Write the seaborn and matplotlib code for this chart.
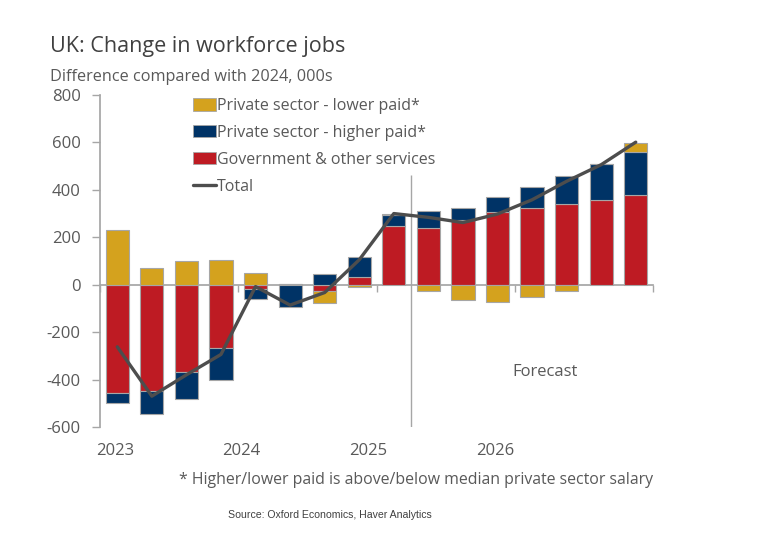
import numpy as np
import pandas as pd
import matplotlib
matplotlib.use("Agg")
import matplotlib.pyplot as plt
import matplotlib.transforms as mtransforms
from matplotlib.patches import Patch
from matplotlib.lines import Line2D
import seaborn as sns

# ---- data (000s, difference vs 2024) ----
quarters = ["2023Q1", "2023Q2", "2023Q3", "2023Q4",
            "2024Q1", "2024Q2", "2024Q3", "2024Q4",
            "2025Q1", "2025Q2", "2025Q3", "2025Q4",
            "2026Q1", "2026Q2", "2026Q3", "2026Q4"]
government = [-458, -447, -366, -265, -20, 5, -28, 31,
              249, 238, 272, 306, 324, 340, 358, 380]
private_higher = [-42, -97, -117, -135, -42, -94, 45, 86,
                  44, 72, 52, 63, 89, 117, 149, 181]
private_lower = [232, 70, 99, 104, 51, 0, -49, -8,
                 6, -27, -63, -73, -52, -27, 0, 38]
total = [-262, -470, -380, -294, -8, -86, -33, 105,
         300, 284, 262, 298, 358, 436, 506, 601]
year_labels = ["2023", "2024", "2025", "2026"]
y_ticks = [-600, -400, -200, 0, 200, 400, 600, 800]

labels = ["Private sector - lower paid*", "Private sector - higher paid*",
          "Government & other services", "Total"]
c_low = "#D4A21E"
c_high = "#003366"
c_gov = "#BE1B23"
c_tot = "#4D4D4D"
edge = "#A6A6A6"
txt = "#595959"

sns.set_theme(style="white")
plt.rcParams["font.family"] = ["Open Sans", "DejaVu Sans"]

fig = plt.figure(figsize=(7.68, 5.6), dpi=100)
ax = fig.add_axes([0.1302, 0.2375, 0.8503 - 0.1302, 0.8304 - 0.2375])

x = np.arange(len(quarters))
w = 0.67

df = pd.DataFrame({"q": quarters, "gov": government})
sns.barplot(data=df, x="q", y="gov", color=c_gov, saturation=1, width=w,
            edgecolor=edge, linewidth=0.8, ax=ax, zorder=2)

pos_b = np.where(np.array(government) > 0, government, 0).astype(float)
neg_b = np.where(np.array(government) < 0, government, 0).astype(float)
for vals, col in [(private_higher, c_high), (private_lower, c_low)]:
    v = np.array(vals, dtype=float)
    bottoms = np.where(v >= 0, pos_b, neg_b)
    ax.bar(x, v, width=w, bottom=bottoms, color=col, edgecolor=edge,
           linewidth=0.8, zorder=2)
    pos_b = pos_b + np.where(v > 0, v, 0)
    neg_b = neg_b + np.where(v < 0, v, 0)

sns.lineplot(x=x, y=total, color=c_tot, linewidth=2.4, ax=ax, legend=False,
             zorder=4)

ax.set_xlim(-0.5, len(quarters) - 0.5)
ax.set_ylim(-600, 800)
ax.set_yticks(y_ticks)
ax.set_yticklabels([str(t) for t in y_ticks])
ax.set_xlabel("")
ax.set_ylabel("")

# year boundaries as ticks on zero line
ax.set_xticks(np.arange(-0.5, len(quarters), 4))
ax.set_xticklabels([])
for s in ["top", "right"]:
    ax.spines[s].set_visible(False)
ax.spines["bottom"].set_position(("data", 0))
ax.spines["bottom"].set_color(edge)
ax.spines["bottom"].set_zorder(1)
ax.spines["left"].set_color(edge)
ax.tick_params(axis="x", direction="out", length=5, color=edge, width=1,
               bottom=True)
ax.tick_params(axis="y", direction="out", length=6, color=edge, width=1,
               left=True, labelsize=12, labelcolor=txt, pad=8)

trans = mtransforms.blended_transform_factory(ax.transData, ax.transAxes)
for i, yl in enumerate(year_labels):
    ax.text(-0.07 + i * 3.665, -0.072, yl, transform=trans, ha="center",
            va="center", fontsize=12, color=txt)

# forecast divider
ax.vlines(8.5, -600, 464, color=edge, linewidth=1, zorder=1)
ax.text(12.38, -368, "Forecast", ha="center", va="center", fontsize=12,
        color=txt)

handles = [Patch(facecolor=c_low, edgecolor=edge, linewidth=0.6),
           Patch(facecolor=c_high, edgecolor=edge, linewidth=0.6),
           Patch(facecolor=c_gov, edgecolor=edge, linewidth=0.6),
           Line2D([0], [0], color=c_tot, linewidth=2.4)]
leg = ax.legend(handles, labels, loc="upper left",
                bbox_to_anchor=(0.157, 1.01), frameon=False, fontsize=11.5,
                handlelength=1.4, handleheight=0.8, handletextpad=0.1,
                labelspacing=0.68, borderaxespad=0)
for t in leg.get_texts():
    t.set_color(txt)

fig.text(0.065, 0.917, "UK: Change in workforce jobs", fontsize=15.5,
         color="#404040", ha="left", va="center")
fig.text(0.065, 0.862, "Difference compared with 2024, 000s", fontsize=11.7,
         color=txt, ha="left", va="center")
fig.text(0.8503, 0.143,
         "* Higher/lower paid is above/below median private sector salary",
         fontsize=11.4, color=txt, ha="right", va="center")
fig.text(0.43, 0.08, "Source: Oxford Economics, Haver Analytics",
         fontsize=7.6, color="#404040", ha="center", va="center",
         family=["Liberation Sans", "DejaVu Sans"])

fig.savefig("out.png", dpi=100, facecolor="white")
